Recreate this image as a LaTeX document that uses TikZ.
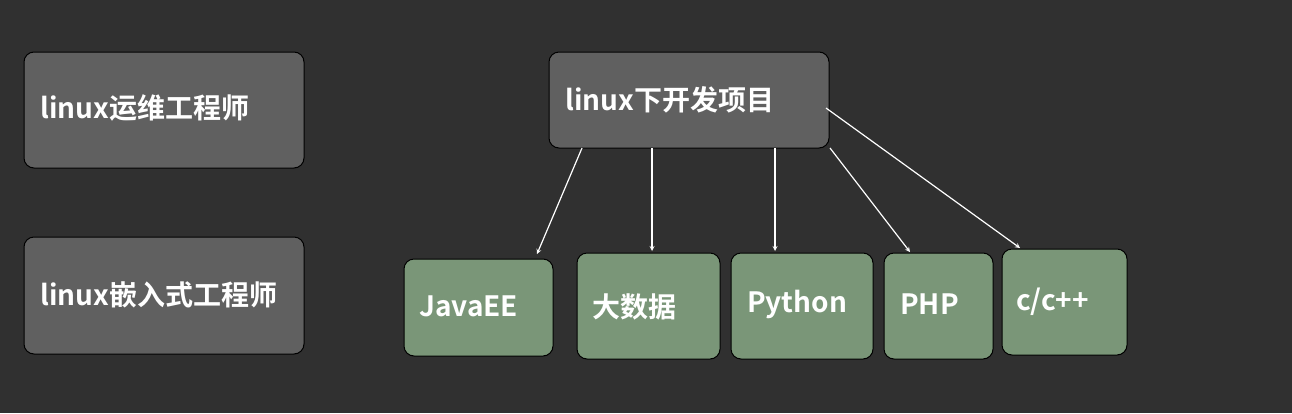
\documentclass[tikz,border=0pt]{standalone}
\usepackage{fontspec}
\setmainfont{Noto Sans CJK SC}[BoldFont={* Bold}]
\begin{document}
\begin{tikzpicture}[x=1pt,y=-1pt,
 box/.style={draw=black,line width=1pt,rounded corners=10pt,fill=gray!75!black},
 gbox/.style={draw=black,line width=1pt,rounded corners=10pt,fill={rgb,255:red,122;green,150;blue,120}},
 lbl/.style={anchor=west,text=white,inner sep=0pt,font=\bfseries\fontsize{28}{30}\selectfont},
 arr/.style={draw=white,line width=1.2pt,-stealth}]
\fill[fill={rgb,255:red,48;green,48;blue,48}] (0,0) rectangle (1292,413);
\useasboundingbox (0,0) rectangle (1292,413);
\draw[box] (24,52) rectangle (304,168);
\node[lbl] (ta) at (40,108) {linux运维工程师};
\draw[box] (24,237) rectangle (304,354);
\node[lbl] (tb) at (40,295) {linux嵌入式工程师};
\draw[box] (549,52) rectangle (829,148);
\node[lbl] (tt) at (565,100) {linux下开发项目};
\draw[gbox] (404,259) rectangle (553,356);
\node[lbl] (j) at (419,306) {JavaEE};
\draw[gbox] (577,253) rectangle (720,359);
\node[lbl] (d) at (592,307) {大数据};
\draw[gbox] (731,253) rectangle (873,359);
\node[lbl] (p) at (747,304) {Python};
\draw[gbox] (884,253) rectangle (993,359);
\node[lbl] (h) at (900,304) {PHP};
\draw[gbox] (1002,249) rectangle (1127,355);
\node[lbl] (c) at (1016,302) {c/c++};
\coordinate (s1) at (582,148); \coordinate (e1) at (537,254);
\coordinate (s2) at (652,148); \coordinate (e2) at (652,251);
\coordinate (s3) at (775,148); \coordinate (e3) at (775,251);
\coordinate (s4) at (830,148); \coordinate (e4) at (910,252);
\coordinate (s5) at (826,108); \coordinate (e5) at (1020,248);
\draw[arr] (s1)--(e1); \draw[arr] (s2)--(e2); \draw[arr] (s3)--(e3);
\draw[arr] (s4)--(e4); \draw[arr] (s5)--(e5);
\end{tikzpicture}
\end{document}
